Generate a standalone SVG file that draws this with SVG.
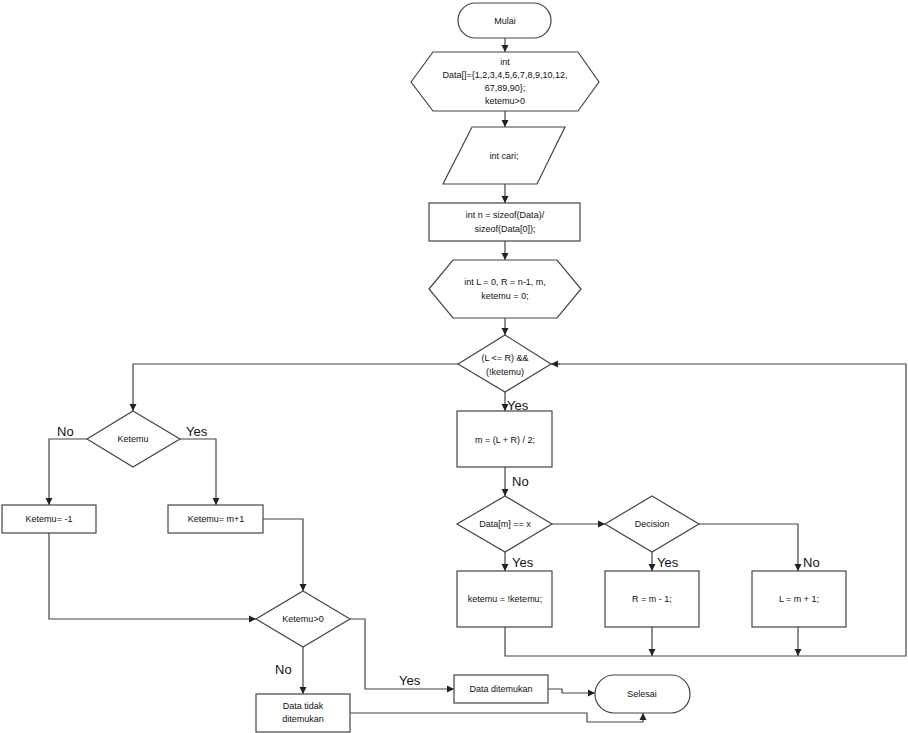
<svg xmlns="http://www.w3.org/2000/svg" width="908" height="733" viewBox="0 0 908 733">
<defs>
<marker id="ah" markerWidth="8" markerHeight="8" refX="7" refY="4" orient="auto" markerUnits="userSpaceOnUse">
<path d="M0,0.5 L7,4 L0,7.5 Z" fill="#222"/>
</marker>
<style>
.s{fill:#fff;stroke:#444;stroke-width:1.2}
.c{fill:none;stroke:#444;stroke-width:1.2}
.a{marker-end:url(#ah)}
.t{font-family:"Liberation Sans",Arial,sans-serif;font-size:9px;fill:#111;text-anchor:middle}
.l{font-family:"Liberation Sans",Arial,sans-serif;font-size:13px;fill:#111}
</style>
</defs>
<rect width="908" height="733" fill="#fff"/>
<g id="connectors">
<path class="c a" d="M505,38 V52"/>
<path class="c a" d="M505,111 V127"/>
<path class="c a" d="M505,184 V203"/>
<path class="c a" d="M505,241 V260"/>
<path class="c a" d="M505,318 V335"/>
<path class="c a" d="M505,392 V411"/>
<path class="c a" d="M505,467 V496"/>
<path class="c a" d="M552,524 H605"/>
<path class="c a" d="M699,524 H798 V571"/>
<path class="c a" d="M505,552 V571"/>
<path class="c a" d="M652,552 V571"/>
<path class="c" d="M505,627 V656 H906 V364 H559"/>
<path class="c a" d="M560,364 H551"/>
<path class="c a" d="M652,627 V656"/>
<path class="c a" d="M798,627 V656"/>
<path class="c a" d="M458,364 H133 V411"/>
<path class="c a" d="M87,439 H49 V505"/>
<path class="c a" d="M180,439 H216 V505"/>
<path class="c a" d="M263,519 H303 V591"/>
<path class="c a" d="M49,533 V619 H256"/>
<path class="c a" d="M303,647 V694"/>
<path class="c a" d="M350,619 H365 V689 H454"/>
<path class="c a" d="M548,689 H562 V693 H595"/>
<path class="c a" d="M350,713 H587 V722 H643 V713"/>
</g>
<g id="labels">
<text class="l" x="507" y="410">Yes</text>
<text class="l" x="512" y="486">No</text>
<text class="l" x="512" y="567">Yes</text>
<text class="l" x="657" y="567">Yes</text>
<text class="l" x="803" y="567">No</text>
<text class="l" x="57" y="436">No</text>
<text class="l" x="186" y="436">Yes</text>
<text class="l" x="275" y="674">No</text>
<text class="l" x="399" y="685">Yes</text>
</g>
<g id="mulai">
<rect class="s" x="458" y="3" width="93" height="35" rx="17.5"/>
<text class="t" x="505" y="24">Mulai</text>
</g>
<g id="init-data">
<polygon class="s" points="411,82 433,52 578,52 599,82 578,111 433,111"/>
<text class="t" x="505" y="65">int</text>
<text class="t" x="505" y="78">Data[]={1,2,3,4,5,6,7,8,9,10,12,</text>
<text class="t" x="505" y="91">67,89,90};</text>
<text class="t" x="505" y="104">ketemu&gt;0</text>
</g>
<g id="input-cari">
<polygon class="s" points="472,127 565,127 537,184 443,184"/>
<text class="t" x="504" y="159">int cari;</text>
</g>
<g id="init-n">
<rect class="s" x="429" y="203" width="151" height="38"/>
<text class="t" x="505" y="218">int n = sizeof(Data)/</text>
<text class="t" x="505" y="232">sizeof(Data[0]);</text>
</g>
<g id="init-lr">
<polygon class="s" points="429,289 453,260 557,260 581,289 557,318 453,318"/>
<text class="t" x="505" y="285">int L = 0, R = n-1, m,</text>
<text class="t" x="505" y="299">ketemu = 0;</text>
</g>
<g id="cond-loop">
<polygon class="s" points="505,335 551,364 505,392 458,364"/>
<text class="t" x="505" y="361">(L &lt;= R) &amp;&amp;</text>
<text class="t" x="505" y="375">(!ketemu)</text>
</g>
<g id="calc-m">
<rect class="s" x="457" y="411" width="95" height="56"/>
<text class="t" x="505" y="443">m = (L + R) / 2;</text>
</g>
<g id="cond-eq">
<polygon class="s" points="505,496 552,524 505,552 457,524"/>
<text class="t" x="505" y="527">Data[m] == x</text>
</g>
<g id="decision">
<polygon class="s" points="652,496 699,524 652,552 605,524"/>
<text class="t" x="652" y="527">Decision</text>
</g>
<g id="set-ketemu">
<rect class="s" x="457" y="571" width="95" height="56"/>
<text class="t" x="505" y="602">ketemu = !ketemu;</text>
</g>
<g id="set-r">
<rect class="s" x="605" y="571" width="94" height="56"/>
<text class="t" x="652" y="602">R = m - 1;</text>
</g>
<g id="set-l">
<rect class="s" x="752" y="571" width="94" height="56"/>
<text class="t" x="799" y="602">L = m + 1;</text>
</g>
<g id="cond-ketemu">
<polygon class="s" points="133,411 180,439 133,467 87,439"/>
<text class="t" x="133" y="442">Ketemu</text>
</g>
<g id="ketemu-neg">
<rect class="s" x="2" y="505" width="94" height="28"/>
<text class="t" x="49" y="522">Ketemu= -1</text>
</g>
<g id="ketemu-pos">
<rect class="s" x="168" y="505" width="95" height="28"/>
<text class="t" x="216" y="522">Ketemu= m+1</text>
</g>
<g id="cond-found">
<polygon class="s" points="303,591 350,619 303,647 256,619"/>
<text class="t" x="303" y="622">Ketemu&gt;0</text>
</g>
<g id="not-found">
<rect class="s" x="256" y="694" width="94" height="38"/>
<text class="t" x="303" y="709">Data tidak</text>
<text class="t" x="303" y="722">ditemukan</text>
</g>
<g id="found">
<rect class="s" x="454" y="675" width="94" height="28"/>
<text class="t" x="501" y="692">Data ditemukan</text>
</g>
<g id="selesai">
<rect class="s" x="595" y="675" width="95" height="38" rx="19"/>
<text class="t" x="642" y="697">Selesai</text>
</g>
</svg>
